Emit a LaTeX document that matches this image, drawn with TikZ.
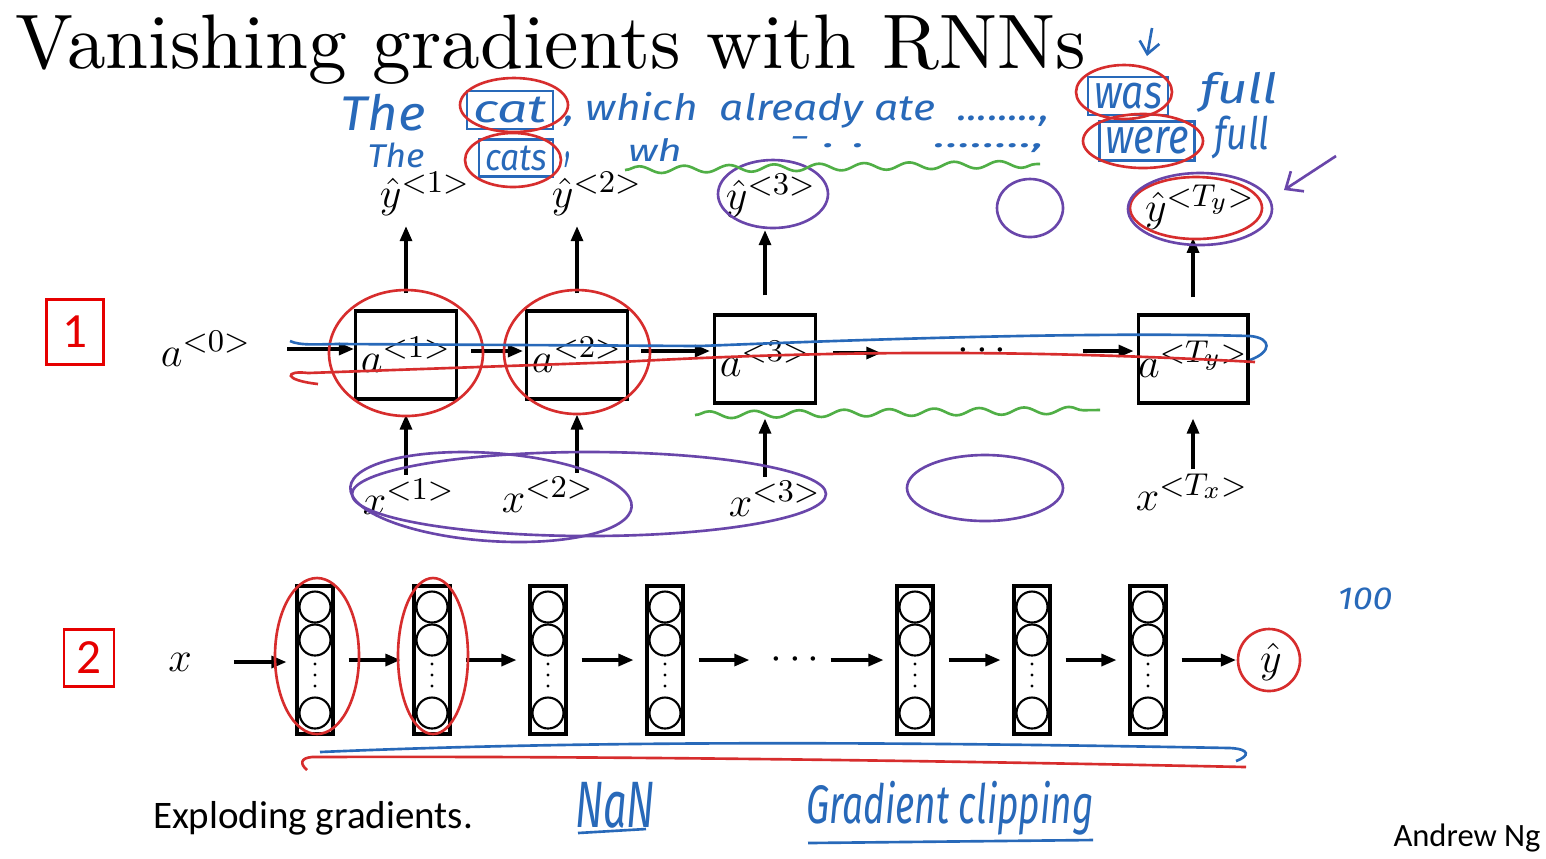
\documentclass[tikz,border=0pt]{standalone}
\usepackage{fontspec}
\usepackage{graphicx}
\newfontfamily\calibri{Carlito}
\newfontfamily\hand{Fira Sans}
\DeclareMathSizes{12}{12}{9.5}{7}
\usetikzlibrary{arrows.meta,decorations.pathmorphing}
\definecolor{inkblue}{RGB}{40,105,185}
\definecolor{inkred}{RGB}{215,45,45}
\definecolor{inkpurple}{RGB}{105,70,170}
\definecolor{inkgreen}{RGB}{80,175,70}
\definecolor{labelred}{RGB}{230,0,0}
\newcommand{\hw}[3]{\resizebox*{#1}{#2}{\hand\itshape #3}}
\begin{document}
\begin{tikzpicture}[x=0.1mm,y=-0.1mm,
  rnnbox/.style={draw,line width=0.9pt,minimum width=10.1mm,minimum height=8.8mm,inner sep=0pt,font=\fontsize{12}{14}\selectfont},
  mlabel/.style={font=\fontsize{12}{14}\selectfont,inner sep=1pt},
  arr/.style={-{Triangle[length=1.5mm,width=1.2mm]},line width=0.9pt},
  colbox/.style={draw,line width=0.9pt,minimum width=3.6mm,minimum height=14.8mm,inner sep=0pt},
  neuron/.style={circle,draw,line width=0.6pt,minimum size=3.1mm,inner sep=0pt},
  numbox/.style={draw=labelred,text=labelred,line width=0.7pt,inner sep=0pt,font=\calibri\fontsize{14}{16}\selectfont},
  hwtext/.style={text=inkblue,inner sep=0pt},
  hwbox/.style={hwtext,draw=inkblue,line width=0.7pt,inner sep=0.6mm},
  redink/.style={draw=inkred,line width=0.75pt},
  blueink/.style={draw=inkblue,line width=0.75pt},
  purpleink/.style={draw=inkpurple,line width=0.75pt},
  greenink/.style={draw=inkgreen,line width=0.75pt,decorate,decoration={snake,amplitude=0.35mm,segment length=4.5mm}}
]
\useasboundingbox (0,0) rectangle (1546,858);
\fill[white] (0,0) rectangle (1546,858);

% title
\node[inner sep=0pt,anchor=base west] (title) at (15,68) {\resizebox{107mm}{!}{Vanishing gradients with RNNs}};

% section labels
\node[numbox,minimum width=5.7mm,minimum height=6.5mm] (n1) at (75,332) {1};
\node[numbox,minimum width=5.0mm,minimum height=5.7mm] (n2) at (89,658) {2};

% ===== RNN =====
\node[mlabel] (a0) at (206,349) {$a^{<0>}$};
\node[rnnbox] (b1) at (406,355) {$a^{<1>}$};
\node[rnnbox] (b2) at (577,355) {$a^{<2>}$};
\node[rnnbox] (b3) at (765,359) {$a^{<3>}$};
\node[rnnbox] (b4) at (1193,359) {$a^{<T_y>}$};
\node[mlabel,minimum width=20mm] (dots1) at (982,351) {$\cdots$};

\draw[arr,shorten <=3.2mm] (a0.east) -- (a0.east -| b1.west);
\draw[arr,shorten <=1.3mm,shorten >=0.2mm] ([yshift=0.4mm]b1.east) -- ([yshift=0.4mm]b1.east -| b2.west);
\draw[arr,shorten <=1.2mm,shorten >=0.3mm] ([yshift=0.4mm]b2.east) -- ([yshift=0.4mm]b2.east -| b3.west);
\draw[arr,shorten <=1.6mm] ([yshift=0.6mm]b3.east) -- ([yshift=0.6mm]b3.east -| dots1.west);
\draw[arr,shorten >=0.3mm] ([yshift=0.8mm]b4.west -| dots1.east) -- ([yshift=0.8mm]b4.west);

\node[mlabel] (y1) at (425,194) {$\hat{y}^{<1>}$};
\node[mlabel] (y2) at (597,194) {$\hat{y}^{<2>}$};
\node[mlabel] (y3) at (771,196) {$\hat{y}^{<3>}$};
\node[mlabel] (y4) at (1200,207) {$\hat{y}^{<T_y>}$};
\draw[arr,shorten <=1.6mm,shorten >=0.6mm] (b1.north) -- (b1.north |- y1.south);
\draw[arr,shorten <=1.6mm,shorten >=0.6mm] (b2.north) -- (b2.north |- y2.south);
\draw[arr,shorten <=1.8mm,shorten >=0.8mm] (b3.north) -- (b3.north |- y3.south);
\draw[arr,shorten <=1.6mm,shorten >=0.4mm] (b4.north) -- (b4.north |- y4.south);

\node[mlabel] (x1) at (409,497) {$x^{<1>}$};
\node[mlabel] (x2) at (548,495) {$x^{<2>}$};
\node[mlabel] (x3) at (775,499) {$x^{<3>}$};
\node[mlabel] (x4) at (1192,492) {$x^{<T_x>}$};
\draw[arr,shorten >=1.4mm] (b1.south |- x1.north) -- (b1.south);
\draw[arr,shorten >=1.4mm] (b2.south |- x2.north) -- (b2.south);
\draw[arr,shorten >=1.4mm] (b3.south |- x3.north) -- (b3.south);
\draw[arr,shorten >=1.4mm] (b4.south |- x4.north) -- (b4.south);

% ===== deep net =====
\node[mlabel] (xin) at (180,662) {$x$};
\foreach \i/\x in {1/315,2/432,3/548,4/665,5/915,6/1032,7/1148} {
  \node[colbox] (c\i) at (\x,660) {};
  \node[neuron] (c\i a) at (\x,607) {};
  \node[neuron] (c\i b) at (\x,640) {};
  \node[neuron] (c\i c) at (\x,713) {};
  \foreach \d in {664,675,686} \fill (\x,\d) circle (0.17mm);
}
\node[mlabel,minimum width=7mm] (dots2) at (795,660) {$\cdots$};
\node[mlabel] (yh) at (1271,662) {$\hat{y}$};

\draw[arr,shorten <=3.8mm,shorten >=0.9mm] (xin.east) -- (xin.east -| c1.west);
\draw[arr,shorten <=1.4mm,shorten >=1.2mm] (c1.east) -- (c2.west);
\draw[arr,shorten <=1.4mm,shorten >=1.2mm] (c2.east) -- (c3.west);
\draw[arr,shorten <=1.4mm,shorten >=1.2mm] (c3.east) -- (c4.west);
\draw[arr,shorten <=1.4mm,shorten >=1.0mm] (c4.east) -- (dots2.west);
\draw[arr,shorten >=1.2mm] (dots2.east) -- (c5.west);
\draw[arr,shorten <=1.4mm,shorten >=1.2mm] (c5.east) -- (c6.west);
\draw[arr,shorten <=1.4mm,shorten >=1.2mm] (c6.east) -- (c7.west);
\draw[arr,shorten <=1.4mm,shorten >=2.0mm] (c7.east) -- (c7.east -| yh.west);

% ===== handwritten annotations =====
\node[hwtext] (the1) at (383,113) {\hw{8.5mm}{3.7mm}{The}};
\node[hwbox] (cat) at (510,110) {\hw{7.4mm}{2.6mm}{cat}};
\node[hwtext] (rest1) at (807,110) {\hw{48.5mm}{3.6mm}{, which \ already ate \ ........,}};
\node[hwtext] (the2) at (396,155) {\hw{5.7mm}{2.5mm}{The}};
\node[hwbox] (cats) at (516,158) {\hw{6.2mm}{2.5mm}{cats}};
\node[hwtext] (comma2) at (568,160) {\hw{0.6mm}{1.6mm}{,}};
\node[hwtext] (wh) at (655,150) {\hw{5.4mm}{2.3mm}{wh}};
\node[hwtext] (dots3) at (917,145) {\hw{25.5mm}{1.6mm}{- . . \quad ........,}};
\node[hwbox] (was) at (1128,96) {\hw{6.8mm}{2.6mm}{was}};
\node[hwtext] (full1) at (1239,92) {\hw{7.8mm}{4mm}{full}};
\node[hwbox] (were) at (1147,141) {\hw{8.3mm}{2.7mm}{were}};
\node[hwtext] (full2) at (1242,137) {\hw{5.5mm}{4.3mm}{full}};
\node[hwtext] (hundred) at (1365,599) {\hw{5.5mm}{2.2mm}{100}};
\node[hwtext] (nan) at (615,805) {\hw{8mm}{4.6mm}{NaN}};
\node[hwtext] (clip) at (950,808) {\hw{28.7mm}{5.4mm}{Gradient clipping}};
\draw[blueink] (578,833) -- (646,829);
\draw[blueink] (808,843) -- (1093,840);

% red ellipses
\draw[redink] (514,105) ellipse (5.4mm and 2.7mm);
\draw[redink] (513,160) ellipse (4.8mm and 2.7mm);
\draw[redink] (1124,92) ellipse (4.8mm and 2.7mm);
\draw[redink] (1143,141) ellipse (6.0mm and 2.7mm);
\draw[redink] (1196,208) ellipse (6.6mm and 3.1mm);
\draw[redink] (406,353) ellipse (7.7mm and 6.3mm);
\draw[redink] (577,352) ellipse (7.3mm and 6.2mm);
\draw[redink] (317,656) ellipse (4.2mm and 7.8mm);
\draw[redink] (433,656) ellipse (3.5mm and 7.8mm);
\draw[redink] (1269,660) circle (3.1mm);

% purple ellipses
\draw[purpleink] (773,194) ellipse (5.5mm and 3.4mm);
\draw[purpleink] (1030,208) ellipse (3.3mm and 2.9mm);
\draw[purpleink] (1200,209) ellipse (7.2mm and 3.6mm);
\draw[purpleink,rotate around={-4:(491,497)}] (491,497) ellipse (14.1mm and 4.4mm);
\draw[purpleink] (589,494) ellipse (23.7mm and 4.2mm);
\draw[purpleink] (985,488) ellipse (7.8mm and 3.3mm);

% arrows drawn by hand
\draw[blueink,-{Straight Barb[length=1.2mm,width=2mm]}] (1152,28) -- (1147,56);
\draw[purpleink,-{Straight Barb[length=1.4mm,width=2.4mm]}] (1336,156) -- (1284,190);

% green wavy lines
\draw[greenink] (625,170) -- (1040,164);
\draw[greenink] (695,415) -- (1100,410);

% blue / red long strokes (RNN)
\draw[blueink] (290,341) .. controls (300,346) and (320,344) .. (340,344) -- (700,346)
  .. controls (900,338) and (1100,332) .. (1250,336) .. controls (1272,338) and (1272,352) .. (1250,360);
\draw[redink] (1255,362) .. controls (1000,348) and (800,352) .. (620,362) -- (308,373)
  .. controls (285,370) and (282,380) .. (318,384);

% blue / red long strokes (deep net)
\draw[blueink] (320,752) .. controls (600,740) and (900,742) .. (1230,748)
  .. controls (1250,749) and (1250,756) .. (1236,761);
\draw[redink] (1246,767) .. controls (900,760) and (600,756) .. (312,757)
  .. controls (300,758) and (300,764) .. (307,770);

% footer
\node[inner sep=0pt] (expl) at (313,818) {\resizebox{32mm}{!}{\calibri Exploding gradients.}};
\node[inner sep=0pt] (ng) at (1467,838) {\resizebox{14.7mm}{!}{\calibri Andrew Ng}};
\end{tikzpicture}
\end{document}
